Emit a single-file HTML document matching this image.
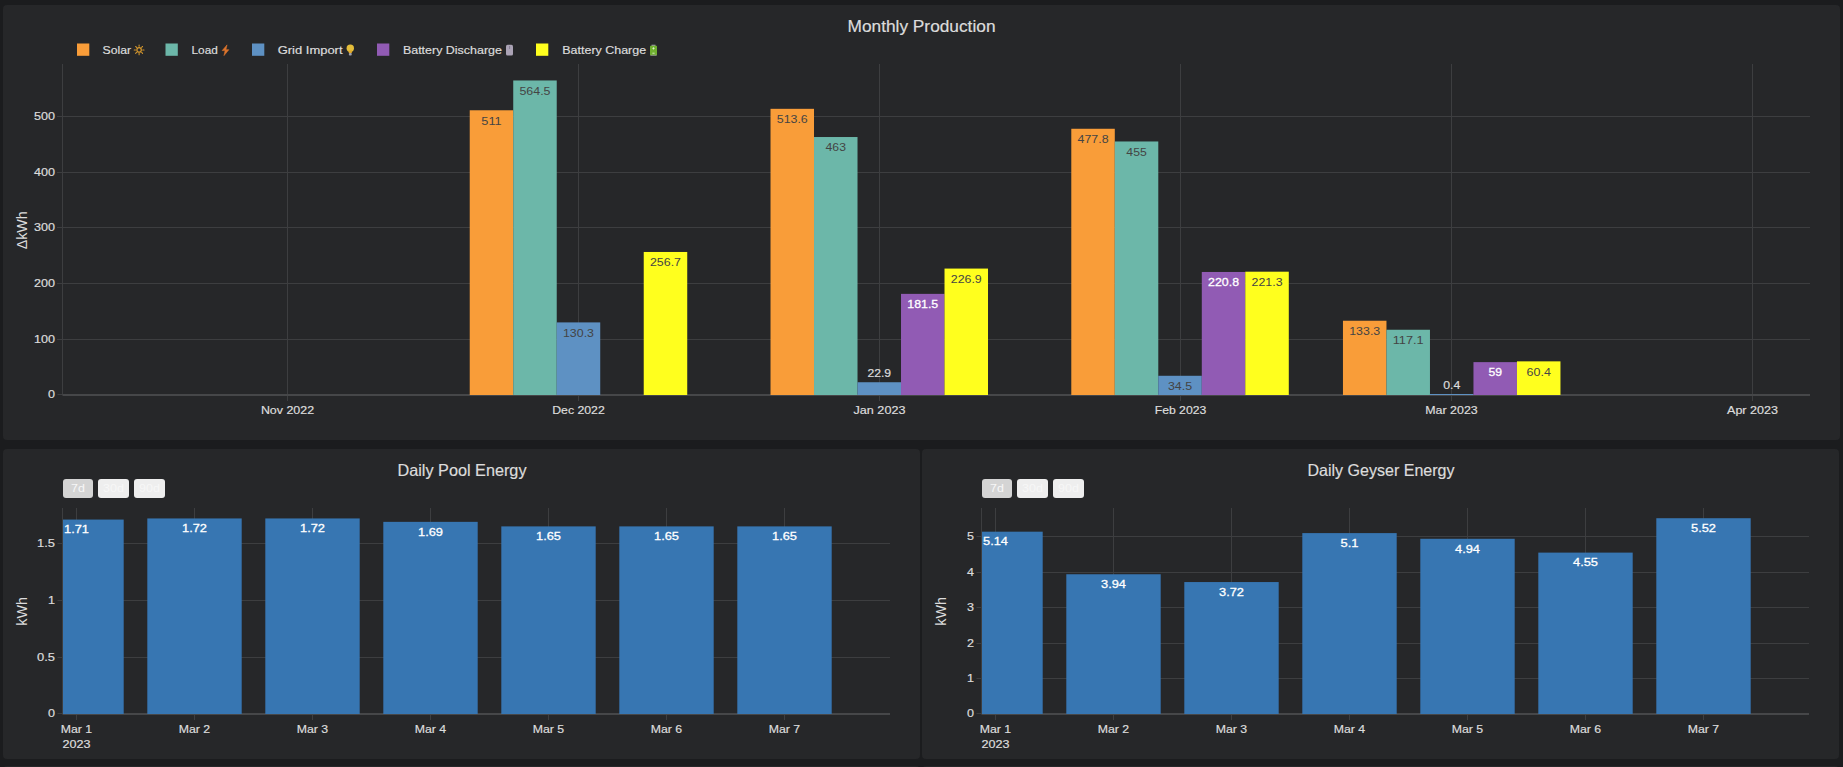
<!DOCTYPE html>
<html><head><meta charset="utf-8"><style>
html,body{margin:0;padding:0;width:1843px;height:767px;overflow:hidden;background:#1b1c1e;}
.p{position:absolute;background:#262729;border-radius:4px;}
svg{position:absolute;left:0;top:0;font-family:"Liberation Sans", sans-serif;}
</style></head><body>
<div class="p" style="left:3px;top:5px;width:1837px;height:435px"></div>
<div class="p" style="left:3px;top:449px;width:917px;height:310px"></div>
<div class="p" style="left:922px;top:449px;width:917px;height:310px"></div>
<div class="p" style="left:3px;top:766px;width:917px;height:20px"></div>
<div class="p" style="left:922px;top:766px;width:917px;height:20px"></div>
<svg width="1843" height="767" viewBox="0 0 1843 767">
<line x1="62.50" y1="339.50" x2="1810.00" y2="339.50" stroke="#3d3e40" stroke-width="1"/>
<line x1="57.00" y1="339.50" x2="62.50" y2="339.50" stroke="#3d3e40" stroke-width="1"/>
<text x="55.00" y="343.20" font-size="11.6" fill="#dcdcdc" text-anchor="end" textLength="20.98" lengthAdjust="spacingAndGlyphs" stroke="#dcdcdc" stroke-width="0.2">100</text>
<line x1="62.50" y1="283.50" x2="1810.00" y2="283.50" stroke="#3d3e40" stroke-width="1"/>
<line x1="57.00" y1="283.50" x2="62.50" y2="283.50" stroke="#3d3e40" stroke-width="1"/>
<text x="55.00" y="287.20" font-size="11.6" fill="#dcdcdc" text-anchor="end" textLength="20.98" lengthAdjust="spacingAndGlyphs" stroke="#dcdcdc" stroke-width="0.2">200</text>
<line x1="62.50" y1="227.50" x2="1810.00" y2="227.50" stroke="#3d3e40" stroke-width="1"/>
<line x1="57.00" y1="227.50" x2="62.50" y2="227.50" stroke="#3d3e40" stroke-width="1"/>
<text x="55.00" y="231.20" font-size="11.6" fill="#dcdcdc" text-anchor="end" textLength="20.98" lengthAdjust="spacingAndGlyphs" stroke="#dcdcdc" stroke-width="0.2">300</text>
<line x1="62.50" y1="172.50" x2="1810.00" y2="172.50" stroke="#3d3e40" stroke-width="1"/>
<line x1="57.00" y1="172.50" x2="62.50" y2="172.50" stroke="#3d3e40" stroke-width="1"/>
<text x="55.00" y="176.20" font-size="11.6" fill="#dcdcdc" text-anchor="end" textLength="20.98" lengthAdjust="spacingAndGlyphs" stroke="#dcdcdc" stroke-width="0.2">400</text>
<line x1="62.50" y1="116.50" x2="1810.00" y2="116.50" stroke="#3d3e40" stroke-width="1"/>
<line x1="57.00" y1="116.50" x2="62.50" y2="116.50" stroke="#3d3e40" stroke-width="1"/>
<text x="55.00" y="120.20" font-size="11.6" fill="#dcdcdc" text-anchor="end" textLength="20.98" lengthAdjust="spacingAndGlyphs" stroke="#dcdcdc" stroke-width="0.2">500</text>
<line x1="287.50" y1="64.00" x2="287.50" y2="395.00" stroke="#3d3e40" stroke-width="1"/>
<line x1="287.50" y1="395.00" x2="287.50" y2="401.00" stroke="#3d3e40" stroke-width="1"/>
<text x="287.50" y="414.30" font-size="11.6" fill="#dcdcdc" text-anchor="middle" textLength="53.25" lengthAdjust="spacingAndGlyphs" stroke="#dcdcdc" stroke-width="0.2">Nov 2022</text>
<line x1="578.50" y1="64.00" x2="578.50" y2="395.00" stroke="#3d3e40" stroke-width="1"/>
<line x1="578.50" y1="395.00" x2="578.50" y2="401.00" stroke="#3d3e40" stroke-width="1"/>
<text x="578.50" y="414.30" font-size="11.6" fill="#dcdcdc" text-anchor="middle" textLength="52.59" lengthAdjust="spacingAndGlyphs" stroke="#dcdcdc" stroke-width="0.2">Dec 2022</text>
<line x1="879.50" y1="64.00" x2="879.50" y2="395.00" stroke="#3d3e40" stroke-width="1"/>
<line x1="879.50" y1="395.00" x2="879.50" y2="401.00" stroke="#3d3e40" stroke-width="1"/>
<text x="879.50" y="414.30" font-size="11.6" fill="#dcdcdc" text-anchor="middle" textLength="51.85" lengthAdjust="spacingAndGlyphs" stroke="#dcdcdc" stroke-width="0.2">Jan 2023</text>
<line x1="1180.50" y1="64.00" x2="1180.50" y2="395.00" stroke="#3d3e40" stroke-width="1"/>
<line x1="1180.50" y1="395.00" x2="1180.50" y2="401.00" stroke="#3d3e40" stroke-width="1"/>
<text x="1180.50" y="414.30" font-size="11.6" fill="#dcdcdc" text-anchor="middle" textLength="51.57" lengthAdjust="spacingAndGlyphs" stroke="#dcdcdc" stroke-width="0.2">Feb 2023</text>
<line x1="1451.50" y1="64.00" x2="1451.50" y2="395.00" stroke="#3d3e40" stroke-width="1"/>
<line x1="1451.50" y1="395.00" x2="1451.50" y2="401.00" stroke="#3d3e40" stroke-width="1"/>
<text x="1451.50" y="414.30" font-size="11.6" fill="#dcdcdc" text-anchor="middle" textLength="52.42" lengthAdjust="spacingAndGlyphs" stroke="#dcdcdc" stroke-width="0.2">Mar 2023</text>
<line x1="1752.50" y1="64.00" x2="1752.50" y2="395.00" stroke="#3d3e40" stroke-width="1"/>
<line x1="1752.50" y1="395.00" x2="1752.50" y2="401.00" stroke="#3d3e40" stroke-width="1"/>
<text x="1752.50" y="414.30" font-size="11.6" fill="#dcdcdc" text-anchor="middle" textLength="50.91" lengthAdjust="spacingAndGlyphs" stroke="#dcdcdc" stroke-width="0.2">Apr 2023</text>
<line x1="62.50" y1="64.00" x2="62.50" y2="395.00" stroke="#3d3e40" stroke-width="1"/>
<text transform="translate(27.3 230.3) rotate(-90)" font-size="14" fill="#dcdcdc" text-anchor="middle" textLength="38" lengthAdjust="spacingAndGlyphs">&#916;kWh</text>
<line x1="57.50" y1="394.50" x2="62.50" y2="394.50" stroke="#3d3e40" stroke-width="1"/>
<line x1="62.50" y1="395.00" x2="1810.00" y2="395.00" stroke="#464749" stroke-width="2"/>
<text x="55.00" y="398.20" font-size="11.6" fill="#dcdcdc" text-anchor="end" textLength="6.99" lengthAdjust="spacingAndGlyphs" stroke="#dcdcdc" stroke-width="0.2">0</text>
<rect x="469.73" y="110.27" width="43.50" height="284.73" fill="#f99d39" />
<text x="491.48" y="124.57" font-size="11.6" fill="#444444" text-anchor="middle" textLength="20.35" lengthAdjust="spacingAndGlyphs" >511</text>
<rect x="513.23" y="80.46" width="43.50" height="314.54" fill="#6cb7a9" />
<text x="534.98" y="94.76" font-size="11.6" fill="#444444" text-anchor="middle" textLength="31.01" lengthAdjust="spacingAndGlyphs" >564.5</text>
<rect x="556.73" y="322.40" width="43.50" height="72.60" fill="#5e91c3" />
<text x="578.48" y="336.70" font-size="11.6" fill="#444444" text-anchor="middle" textLength="31.01" lengthAdjust="spacingAndGlyphs" >130.3</text>
<rect x="643.73" y="251.97" width="43.50" height="143.03" fill="#ffff1e" />
<text x="665.48" y="266.27" font-size="11.6" fill="#444444" text-anchor="middle" textLength="31.01" lengthAdjust="spacingAndGlyphs" >256.7</text>
<rect x="770.51" y="108.82" width="43.50" height="286.18" fill="#f99d39" />
<text x="792.26" y="123.12" font-size="11.6" fill="#444444" text-anchor="middle" textLength="31.01" lengthAdjust="spacingAndGlyphs" >513.6</text>
<rect x="814.01" y="137.02" width="43.50" height="257.98" fill="#6cb7a9" />
<text x="835.76" y="151.32" font-size="11.6" fill="#444444" text-anchor="middle" textLength="20.35" lengthAdjust="spacingAndGlyphs" >463</text>
<rect x="857.51" y="382.24" width="43.50" height="12.76" fill="#5e91c3" />
<text x="879.26" y="376.84" font-size="11.6" fill="#dcdcdc" text-anchor="middle" textLength="23.73" lengthAdjust="spacingAndGlyphs" stroke="#dcdcdc" stroke-width="0.2">22.9</text>
<rect x="901.01" y="293.87" width="43.50" height="101.13" fill="#915bb4" />
<text x="922.76" y="308.17" font-size="11.6" fill="#ffffff" text-anchor="middle" textLength="31.01" lengthAdjust="spacingAndGlyphs" stroke="#ffffff" stroke-width="0.3">181.5</text>
<rect x="944.51" y="268.57" width="43.50" height="126.43" fill="#ffff1e" />
<text x="966.26" y="282.87" font-size="11.6" fill="#444444" text-anchor="middle" textLength="31.01" lengthAdjust="spacingAndGlyphs" >226.9</text>
<rect x="1071.29" y="128.77" width="43.50" height="266.23" fill="#f99d39" />
<text x="1093.04" y="143.07" font-size="11.6" fill="#444444" text-anchor="middle" textLength="31.01" lengthAdjust="spacingAndGlyphs" >477.8</text>
<rect x="1114.79" y="141.47" width="43.50" height="253.53" fill="#6cb7a9" />
<text x="1136.54" y="155.77" font-size="11.6" fill="#444444" text-anchor="middle" textLength="20.35" lengthAdjust="spacingAndGlyphs" >455</text>
<rect x="1158.29" y="375.78" width="43.50" height="19.22" fill="#5e91c3" />
<text x="1180.04" y="390.08" font-size="11.6" fill="#444444" text-anchor="middle" textLength="24.23" lengthAdjust="spacingAndGlyphs" >34.5</text>
<rect x="1201.79" y="271.97" width="43.50" height="123.03" fill="#915bb4" />
<text x="1223.54" y="286.27" font-size="11.6" fill="#ffffff" text-anchor="middle" textLength="31.01" lengthAdjust="spacingAndGlyphs" stroke="#ffffff" stroke-width="0.3">220.8</text>
<rect x="1245.29" y="271.69" width="43.50" height="123.31" fill="#ffff1e" />
<text x="1267.04" y="285.99" font-size="11.6" fill="#444444" text-anchor="middle" textLength="31.01" lengthAdjust="spacingAndGlyphs" >221.3</text>
<rect x="1342.96" y="320.73" width="43.50" height="74.27" fill="#f99d39" />
<text x="1364.71" y="335.03" font-size="11.6" fill="#444444" text-anchor="middle" textLength="31.01" lengthAdjust="spacingAndGlyphs" >133.3</text>
<rect x="1386.46" y="329.75" width="43.50" height="65.25" fill="#6cb7a9" />
<text x="1408.21" y="344.05" font-size="11.6" fill="#444444" text-anchor="middle" textLength="31.01" lengthAdjust="spacingAndGlyphs" >117.1</text>
<rect x="1429.96" y="394.00" width="43.50" height="1.00" fill="#5e91c3" />
<text x="1451.71" y="388.60" font-size="11.6" fill="#dcdcdc" text-anchor="middle" textLength="17.09" lengthAdjust="spacingAndGlyphs" stroke="#dcdcdc" stroke-width="0.2">0.4</text>
<rect x="1473.46" y="362.13" width="43.50" height="32.87" fill="#915bb4" />
<text x="1495.21" y="376.43" font-size="11.6" fill="#ffffff" text-anchor="middle" textLength="13.57" lengthAdjust="spacingAndGlyphs" stroke="#ffffff" stroke-width="0.3">59</text>
<rect x="1516.96" y="361.35" width="43.50" height="33.65" fill="#ffff1e" />
<text x="1538.71" y="375.65" font-size="11.6" fill="#444444" text-anchor="middle" textLength="24.23" lengthAdjust="spacingAndGlyphs" >60.4</text>
<text x="921.50" y="32.00" font-size="16.5" fill="#dcdcdc" text-anchor="middle" textLength="148.00" lengthAdjust="spacingAndGlyphs" stroke="#dcdcdc" stroke-width="0.2">Monthly Production</text>
<rect x="77.00" y="43.50" width="12.30" height="12.30" fill="#f99d39" />
<text x="102.50" y="54.20" font-size="11.6" fill="#dcdcdc" text-anchor="start" textLength="28.52" lengthAdjust="spacingAndGlyphs" stroke="#dcdcdc" stroke-width="0.2">Solar</text>
<rect x="165.50" y="43.50" width="12.30" height="12.30" fill="#6cb7a9" />
<text x="191.50" y="54.20" font-size="11.6" fill="#dcdcdc" text-anchor="start" textLength="26.26" lengthAdjust="spacingAndGlyphs" stroke="#dcdcdc" stroke-width="0.2">Load</text>
<rect x="252.00" y="43.50" width="12.30" height="12.30" fill="#5e91c3" />
<text x="277.70" y="54.20" font-size="11.6" fill="#dcdcdc" text-anchor="start" textLength="64.85" lengthAdjust="spacingAndGlyphs" stroke="#dcdcdc" stroke-width="0.2">Grid Import</text>
<rect x="377.00" y="43.50" width="12.30" height="12.30" fill="#915bb4" />
<text x="402.90" y="54.20" font-size="11.6" fill="#dcdcdc" text-anchor="start" textLength="99.04" lengthAdjust="spacingAndGlyphs" stroke="#dcdcdc" stroke-width="0.2">Battery Discharge</text>
<rect x="536.00" y="43.50" width="12.30" height="12.30" fill="#ffff1e" />
<text x="562.30" y="54.20" font-size="11.6" fill="#dcdcdc" text-anchor="start" textLength="83.78" lengthAdjust="spacingAndGlyphs" stroke="#dcdcdc" stroke-width="0.2">Battery Charge</text>
<g stroke="#d99a2d" fill="none" stroke-linecap="round"><circle cx="139.1" cy="49.9" r="2.2" stroke-width="1.2"/><line x1="142.70" y1="49.90" x2="144.00" y2="49.90" stroke-width="1.05"/><line x1="141.65" y1="52.45" x2="142.56" y2="53.36" stroke-width="1.05"/><line x1="139.10" y1="53.50" x2="139.10" y2="54.80" stroke-width="1.05"/><line x1="136.55" y1="52.45" x2="135.64" y2="53.36" stroke-width="1.05"/><line x1="135.50" y1="49.90" x2="134.20" y2="49.90" stroke-width="1.05"/><line x1="136.55" y1="47.35" x2="135.64" y2="46.44" stroke-width="1.05"/><line x1="139.10" y1="46.30" x2="139.10" y2="45.00" stroke-width="1.05"/><line x1="141.65" y1="47.35" x2="142.56" y2="46.44" stroke-width="1.05"/></g>
<path d="M227.0 44.9 L222.2 50.6 L225.1 50.6 L224.0 55.6 L228.8 49.7 L225.9 49.7 Z" fill="#dd742c" stroke="#dd742c" stroke-width="0.6" stroke-linejoin="round"/>
<circle cx="350.3" cy="48.3" r="3.7" fill="#e3bd3a"/><path d="M348.6 50.5 L352 50.5 L351.8 53 L348.8 53 Z" fill="#e0a82a"/><rect x="348.9" y="53" width="2.8" height="2.5" rx="0.8" fill="#a0a0a8"/>
<rect x="506" y="44.8" width="7" height="10.8" rx="1.6" fill="#aba3b5"/><line x1="509.6" y1="46" x2="509.6" y2="49" stroke="#847c92" stroke-width="1"/>
<rect x="651.5" y="44.7" width="4" height="1.5" fill="#9a96a2"/><rect x="650" y="45.8" width="7" height="9.6" rx="0.6" fill="#6fb02f"/><rect x="650.5" y="54.8" width="6" height="0.8" fill="#9a96a2"/><path d="M652.4 48.4 H654.6 M653.5 47.3 V49.5 M652.4 53.2 H654.6" stroke="#e0f0d0" stroke-width="0.9"/>
<line x1="62.50" y1="657.50" x2="890.00" y2="657.50" stroke="#3d3e40" stroke-width="1"/>
<line x1="57.50" y1="657.50" x2="62.50" y2="657.50" stroke="#3d3e40" stroke-width="1"/>
<text x="55.00" y="661.20" font-size="11.6" fill="#dcdcdc" text-anchor="end" textLength="17.99" lengthAdjust="spacingAndGlyphs" stroke="#dcdcdc" stroke-width="0.2">0.5</text>
<line x1="62.50" y1="600.50" x2="890.00" y2="600.50" stroke="#3d3e40" stroke-width="1"/>
<line x1="57.50" y1="600.50" x2="62.50" y2="600.50" stroke="#3d3e40" stroke-width="1"/>
<text x="55.00" y="604.20" font-size="11.6" fill="#dcdcdc" text-anchor="end" textLength="6.99" lengthAdjust="spacingAndGlyphs" stroke="#dcdcdc" stroke-width="0.2">1</text>
<line x1="62.50" y1="543.50" x2="890.00" y2="543.50" stroke="#3d3e40" stroke-width="1"/>
<line x1="57.50" y1="543.50" x2="62.50" y2="543.50" stroke="#3d3e40" stroke-width="1"/>
<text x="55.00" y="547.20" font-size="11.6" fill="#dcdcdc" text-anchor="end" textLength="17.99" lengthAdjust="spacingAndGlyphs" stroke="#dcdcdc" stroke-width="0.2">1.5</text>
<line x1="76.50" y1="508.00" x2="76.50" y2="714.00" stroke="#3d3e40" stroke-width="1"/>
<line x1="76.50" y1="714.00" x2="76.50" y2="720.00" stroke="#3d3e40" stroke-width="1"/>
<text x="76.50" y="733.00" font-size="11.6" fill="#dcdcdc" text-anchor="middle" textLength="31.44" lengthAdjust="spacingAndGlyphs" stroke="#dcdcdc" stroke-width="0.2">Mar 1</text>
<line x1="194.50" y1="508.00" x2="194.50" y2="714.00" stroke="#3d3e40" stroke-width="1"/>
<line x1="194.50" y1="714.00" x2="194.50" y2="720.00" stroke="#3d3e40" stroke-width="1"/>
<text x="194.50" y="733.00" font-size="11.6" fill="#dcdcdc" text-anchor="middle" textLength="31.44" lengthAdjust="spacingAndGlyphs" stroke="#dcdcdc" stroke-width="0.2">Mar 2</text>
<line x1="312.50" y1="508.00" x2="312.50" y2="714.00" stroke="#3d3e40" stroke-width="1"/>
<line x1="312.50" y1="714.00" x2="312.50" y2="720.00" stroke="#3d3e40" stroke-width="1"/>
<text x="312.50" y="733.00" font-size="11.6" fill="#dcdcdc" text-anchor="middle" textLength="31.44" lengthAdjust="spacingAndGlyphs" stroke="#dcdcdc" stroke-width="0.2">Mar 3</text>
<line x1="430.50" y1="508.00" x2="430.50" y2="714.00" stroke="#3d3e40" stroke-width="1"/>
<line x1="430.50" y1="714.00" x2="430.50" y2="720.00" stroke="#3d3e40" stroke-width="1"/>
<text x="430.50" y="733.00" font-size="11.6" fill="#dcdcdc" text-anchor="middle" textLength="31.44" lengthAdjust="spacingAndGlyphs" stroke="#dcdcdc" stroke-width="0.2">Mar 4</text>
<line x1="548.50" y1="508.00" x2="548.50" y2="714.00" stroke="#3d3e40" stroke-width="1"/>
<line x1="548.50" y1="714.00" x2="548.50" y2="720.00" stroke="#3d3e40" stroke-width="1"/>
<text x="548.50" y="733.00" font-size="11.6" fill="#dcdcdc" text-anchor="middle" textLength="31.44" lengthAdjust="spacingAndGlyphs" stroke="#dcdcdc" stroke-width="0.2">Mar 5</text>
<line x1="666.50" y1="508.00" x2="666.50" y2="714.00" stroke="#3d3e40" stroke-width="1"/>
<line x1="666.50" y1="714.00" x2="666.50" y2="720.00" stroke="#3d3e40" stroke-width="1"/>
<text x="666.50" y="733.00" font-size="11.6" fill="#dcdcdc" text-anchor="middle" textLength="31.44" lengthAdjust="spacingAndGlyphs" stroke="#dcdcdc" stroke-width="0.2">Mar 6</text>
<line x1="784.50" y1="508.00" x2="784.50" y2="714.00" stroke="#3d3e40" stroke-width="1"/>
<line x1="784.50" y1="714.00" x2="784.50" y2="720.00" stroke="#3d3e40" stroke-width="1"/>
<text x="784.50" y="733.00" font-size="11.6" fill="#dcdcdc" text-anchor="middle" textLength="31.44" lengthAdjust="spacingAndGlyphs" stroke="#dcdcdc" stroke-width="0.2">Mar 7</text>
<text x="76.50" y="748.00" font-size="11.6" fill="#dcdcdc" text-anchor="middle" textLength="27.97" lengthAdjust="spacingAndGlyphs" stroke="#dcdcdc" stroke-width="0.2">2023</text>
<line x1="62.50" y1="508.00" x2="62.50" y2="714.00" stroke="#3d3e40" stroke-width="1"/>
<line x1="57.50" y1="713.50" x2="62.50" y2="713.50" stroke="#3d3e40" stroke-width="1"/>
<line x1="62.50" y1="714.00" x2="890.00" y2="714.00" stroke="#464749" stroke-width="2"/>
<text x="55.00" y="717.20" font-size="11.6" fill="#dcdcdc" text-anchor="end" textLength="6.99" lengthAdjust="spacingAndGlyphs" stroke="#dcdcdc" stroke-width="0.2">0</text>
<rect x="63.00" y="519.57" width="60.70" height="194.43" fill="#3776b2" />
<text x="76.50" y="533.37" font-size="11.6" fill="#ffffff" text-anchor="middle" textLength="24.98" lengthAdjust="spacingAndGlyphs" stroke="#ffffff" stroke-width="0.3">1.71</text>
<rect x="147.30" y="518.44" width="94.40" height="195.56" fill="#3776b2" />
<text x="194.50" y="532.24" font-size="11.6" fill="#ffffff" text-anchor="middle" textLength="24.98" lengthAdjust="spacingAndGlyphs" stroke="#ffffff" stroke-width="0.3">1.72</text>
<rect x="265.30" y="518.44" width="94.40" height="195.56" fill="#3776b2" />
<text x="312.50" y="532.24" font-size="11.6" fill="#ffffff" text-anchor="middle" textLength="24.98" lengthAdjust="spacingAndGlyphs" stroke="#ffffff" stroke-width="0.3">1.72</text>
<rect x="383.30" y="521.85" width="94.40" height="192.15" fill="#3776b2" />
<text x="430.50" y="535.65" font-size="11.6" fill="#ffffff" text-anchor="middle" textLength="24.98" lengthAdjust="spacingAndGlyphs" stroke="#ffffff" stroke-width="0.3">1.69</text>
<rect x="501.30" y="526.39" width="94.40" height="187.61" fill="#3776b2" />
<text x="548.50" y="540.19" font-size="11.6" fill="#ffffff" text-anchor="middle" textLength="24.98" lengthAdjust="spacingAndGlyphs" stroke="#ffffff" stroke-width="0.3">1.65</text>
<rect x="619.30" y="526.39" width="94.40" height="187.61" fill="#3776b2" />
<text x="666.50" y="540.19" font-size="11.6" fill="#ffffff" text-anchor="middle" textLength="24.98" lengthAdjust="spacingAndGlyphs" stroke="#ffffff" stroke-width="0.3">1.65</text>
<rect x="737.30" y="526.39" width="94.40" height="187.61" fill="#3776b2" />
<text x="784.50" y="540.19" font-size="11.6" fill="#ffffff" text-anchor="middle" textLength="24.98" lengthAdjust="spacingAndGlyphs" stroke="#ffffff" stroke-width="0.3">1.65</text>
<text transform="translate(27.3 611.4) rotate(-90)" font-size="14" fill="#dcdcdc" text-anchor="middle" textLength="28.6" lengthAdjust="spacingAndGlyphs">kWh</text>
<text x="462.00" y="476.00" font-size="16.5" fill="#dcdcdc" text-anchor="middle" textLength="129.00" lengthAdjust="spacingAndGlyphs" stroke="#dcdcdc" stroke-width="0.2">Daily Pool Energy</text>
<rect x="63" y="479" width="30" height="19" rx="3" fill="#d4d4d4"/>
<text x="78.00" y="492.00" font-size="11.6" fill="#f7f7f7" text-anchor="middle" textLength="13.85" lengthAdjust="spacingAndGlyphs" >7d</text>
<rect x="98" y="479" width="31" height="19" rx="3" fill="#eeeeee"/>
<text x="113.50" y="492.00" font-size="11.6" fill="#f7f7f7" text-anchor="middle" textLength="20.84" lengthAdjust="spacingAndGlyphs" >30d</text>
<rect x="134" y="479" width="31" height="19" rx="3" fill="#eeeeee"/>
<text x="149.50" y="492.00" font-size="11.6" fill="#f7f7f7" text-anchor="middle" textLength="20.84" lengthAdjust="spacingAndGlyphs" >90d</text>
<line x1="981.50" y1="678.50" x2="1809.00" y2="678.50" stroke="#3d3e40" stroke-width="1"/>
<line x1="976.50" y1="678.50" x2="981.50" y2="678.50" stroke="#3d3e40" stroke-width="1"/>
<text x="974.00" y="682.20" font-size="11.6" fill="#dcdcdc" text-anchor="end" textLength="6.99" lengthAdjust="spacingAndGlyphs" stroke="#dcdcdc" stroke-width="0.2">1</text>
<line x1="981.50" y1="643.50" x2="1809.00" y2="643.50" stroke="#3d3e40" stroke-width="1"/>
<line x1="976.50" y1="643.50" x2="981.50" y2="643.50" stroke="#3d3e40" stroke-width="1"/>
<text x="974.00" y="647.20" font-size="11.6" fill="#dcdcdc" text-anchor="end" textLength="6.99" lengthAdjust="spacingAndGlyphs" stroke="#dcdcdc" stroke-width="0.2">2</text>
<line x1="981.50" y1="607.50" x2="1809.00" y2="607.50" stroke="#3d3e40" stroke-width="1"/>
<line x1="976.50" y1="607.50" x2="981.50" y2="607.50" stroke="#3d3e40" stroke-width="1"/>
<text x="974.00" y="611.20" font-size="11.6" fill="#dcdcdc" text-anchor="end" textLength="6.99" lengthAdjust="spacingAndGlyphs" stroke="#dcdcdc" stroke-width="0.2">3</text>
<line x1="981.50" y1="572.50" x2="1809.00" y2="572.50" stroke="#3d3e40" stroke-width="1"/>
<line x1="976.50" y1="572.50" x2="981.50" y2="572.50" stroke="#3d3e40" stroke-width="1"/>
<text x="974.00" y="576.20" font-size="11.6" fill="#dcdcdc" text-anchor="end" textLength="6.99" lengthAdjust="spacingAndGlyphs" stroke="#dcdcdc" stroke-width="0.2">4</text>
<line x1="981.50" y1="536.50" x2="1809.00" y2="536.50" stroke="#3d3e40" stroke-width="1"/>
<line x1="976.50" y1="536.50" x2="981.50" y2="536.50" stroke="#3d3e40" stroke-width="1"/>
<text x="974.00" y="540.20" font-size="11.6" fill="#dcdcdc" text-anchor="end" textLength="6.99" lengthAdjust="spacingAndGlyphs" stroke="#dcdcdc" stroke-width="0.2">5</text>
<line x1="995.50" y1="508.00" x2="995.50" y2="714.00" stroke="#3d3e40" stroke-width="1"/>
<line x1="995.50" y1="714.00" x2="995.50" y2="720.00" stroke="#3d3e40" stroke-width="1"/>
<text x="995.50" y="733.00" font-size="11.6" fill="#dcdcdc" text-anchor="middle" textLength="31.44" lengthAdjust="spacingAndGlyphs" stroke="#dcdcdc" stroke-width="0.2">Mar 1</text>
<line x1="1113.50" y1="508.00" x2="1113.50" y2="714.00" stroke="#3d3e40" stroke-width="1"/>
<line x1="1113.50" y1="714.00" x2="1113.50" y2="720.00" stroke="#3d3e40" stroke-width="1"/>
<text x="1113.50" y="733.00" font-size="11.6" fill="#dcdcdc" text-anchor="middle" textLength="31.44" lengthAdjust="spacingAndGlyphs" stroke="#dcdcdc" stroke-width="0.2">Mar 2</text>
<line x1="1231.50" y1="508.00" x2="1231.50" y2="714.00" stroke="#3d3e40" stroke-width="1"/>
<line x1="1231.50" y1="714.00" x2="1231.50" y2="720.00" stroke="#3d3e40" stroke-width="1"/>
<text x="1231.50" y="733.00" font-size="11.6" fill="#dcdcdc" text-anchor="middle" textLength="31.44" lengthAdjust="spacingAndGlyphs" stroke="#dcdcdc" stroke-width="0.2">Mar 3</text>
<line x1="1349.50" y1="508.00" x2="1349.50" y2="714.00" stroke="#3d3e40" stroke-width="1"/>
<line x1="1349.50" y1="714.00" x2="1349.50" y2="720.00" stroke="#3d3e40" stroke-width="1"/>
<text x="1349.50" y="733.00" font-size="11.6" fill="#dcdcdc" text-anchor="middle" textLength="31.44" lengthAdjust="spacingAndGlyphs" stroke="#dcdcdc" stroke-width="0.2">Mar 4</text>
<line x1="1467.50" y1="508.00" x2="1467.50" y2="714.00" stroke="#3d3e40" stroke-width="1"/>
<line x1="1467.50" y1="714.00" x2="1467.50" y2="720.00" stroke="#3d3e40" stroke-width="1"/>
<text x="1467.50" y="733.00" font-size="11.6" fill="#dcdcdc" text-anchor="middle" textLength="31.44" lengthAdjust="spacingAndGlyphs" stroke="#dcdcdc" stroke-width="0.2">Mar 5</text>
<line x1="1585.50" y1="508.00" x2="1585.50" y2="714.00" stroke="#3d3e40" stroke-width="1"/>
<line x1="1585.50" y1="714.00" x2="1585.50" y2="720.00" stroke="#3d3e40" stroke-width="1"/>
<text x="1585.50" y="733.00" font-size="11.6" fill="#dcdcdc" text-anchor="middle" textLength="31.44" lengthAdjust="spacingAndGlyphs" stroke="#dcdcdc" stroke-width="0.2">Mar 6</text>
<line x1="1703.50" y1="508.00" x2="1703.50" y2="714.00" stroke="#3d3e40" stroke-width="1"/>
<line x1="1703.50" y1="714.00" x2="1703.50" y2="720.00" stroke="#3d3e40" stroke-width="1"/>
<text x="1703.50" y="733.00" font-size="11.6" fill="#dcdcdc" text-anchor="middle" textLength="31.44" lengthAdjust="spacingAndGlyphs" stroke="#dcdcdc" stroke-width="0.2">Mar 7</text>
<text x="995.50" y="748.00" font-size="11.6" fill="#dcdcdc" text-anchor="middle" textLength="27.97" lengthAdjust="spacingAndGlyphs" stroke="#dcdcdc" stroke-width="0.2">2023</text>
<line x1="981.50" y1="508.00" x2="981.50" y2="714.00" stroke="#3d3e40" stroke-width="1"/>
<line x1="976.50" y1="713.50" x2="981.50" y2="713.50" stroke="#3d3e40" stroke-width="1"/>
<line x1="981.50" y1="714.00" x2="1809.00" y2="714.00" stroke="#464749" stroke-width="2"/>
<text x="974.00" y="717.20" font-size="11.6" fill="#dcdcdc" text-anchor="end" textLength="6.99" lengthAdjust="spacingAndGlyphs" stroke="#dcdcdc" stroke-width="0.2">0</text>
<rect x="982.00" y="531.68" width="60.70" height="182.32" fill="#3776b2" />
<text x="995.50" y="545.48" font-size="11.6" fill="#ffffff" text-anchor="middle" textLength="24.98" lengthAdjust="spacingAndGlyphs" stroke="#ffffff" stroke-width="0.3">5.14</text>
<rect x="1066.30" y="574.25" width="94.40" height="139.75" fill="#3776b2" />
<text x="1113.50" y="588.05" font-size="11.6" fill="#ffffff" text-anchor="middle" textLength="24.98" lengthAdjust="spacingAndGlyphs" stroke="#ffffff" stroke-width="0.3">3.94</text>
<rect x="1184.30" y="582.05" width="94.40" height="131.95" fill="#3776b2" />
<text x="1231.50" y="595.85" font-size="11.6" fill="#ffffff" text-anchor="middle" textLength="24.98" lengthAdjust="spacingAndGlyphs" stroke="#ffffff" stroke-width="0.3">3.72</text>
<rect x="1302.30" y="533.10" width="94.40" height="180.90" fill="#3776b2" />
<text x="1349.50" y="546.90" font-size="11.6" fill="#ffffff" text-anchor="middle" textLength="17.99" lengthAdjust="spacingAndGlyphs" stroke="#ffffff" stroke-width="0.3">5.1</text>
<rect x="1420.30" y="538.78" width="94.40" height="175.22" fill="#3776b2" />
<text x="1467.50" y="552.58" font-size="11.6" fill="#ffffff" text-anchor="middle" textLength="24.98" lengthAdjust="spacingAndGlyphs" stroke="#ffffff" stroke-width="0.3">4.94</text>
<rect x="1538.30" y="552.61" width="94.40" height="161.39" fill="#3776b2" />
<text x="1585.50" y="566.41" font-size="11.6" fill="#ffffff" text-anchor="middle" textLength="24.98" lengthAdjust="spacingAndGlyphs" stroke="#ffffff" stroke-width="0.3">4.55</text>
<rect x="1656.30" y="518.21" width="94.40" height="195.79" fill="#3776b2" />
<text x="1703.50" y="532.01" font-size="11.6" fill="#ffffff" text-anchor="middle" textLength="24.98" lengthAdjust="spacingAndGlyphs" stroke="#ffffff" stroke-width="0.3">5.52</text>
<text transform="translate(946.3 611.4) rotate(-90)" font-size="14" fill="#dcdcdc" text-anchor="middle" textLength="28.6" lengthAdjust="spacingAndGlyphs">kWh</text>
<text x="1381.00" y="476.00" font-size="16.5" fill="#dcdcdc" text-anchor="middle" textLength="147.00" lengthAdjust="spacingAndGlyphs" stroke="#dcdcdc" stroke-width="0.2">Daily Geyser Energy</text>
<rect x="982" y="479" width="30" height="19" rx="3" fill="#d4d4d4"/>
<text x="997.00" y="492.00" font-size="11.6" fill="#f7f7f7" text-anchor="middle" textLength="13.85" lengthAdjust="spacingAndGlyphs" >7d</text>
<rect x="1017" y="479" width="31" height="19" rx="3" fill="#eeeeee"/>
<text x="1032.50" y="492.00" font-size="11.6" fill="#f7f7f7" text-anchor="middle" textLength="20.84" lengthAdjust="spacingAndGlyphs" >30d</text>
<rect x="1053" y="479" width="31" height="19" rx="3" fill="#eeeeee"/>
<text x="1068.50" y="492.00" font-size="11.6" fill="#f7f7f7" text-anchor="middle" textLength="20.84" lengthAdjust="spacingAndGlyphs" >90d</text>
</svg>
</body></html>
